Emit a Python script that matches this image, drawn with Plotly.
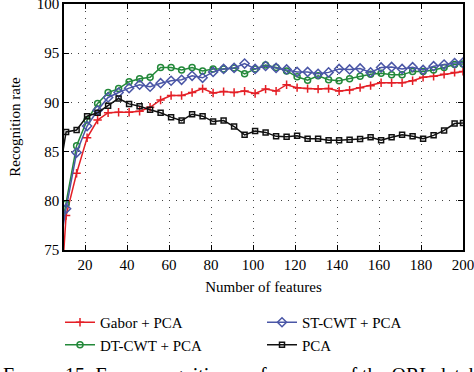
import plotly.graph_objects as go

features = [6, 11, 16, 21, 26, 31, 36, 41, 46, 51, 56, 61, 66, 71, 76, 81, 86, 91, 96, 101,
            106, 111, 116, 121, 126, 131, 136, 141, 146, 151, 156, 161, 166, 171, 176, 181,
            186, 191, 196, 200]

gabor_pca = [62.0, 78.5, 82.8, 86.4, 88.2, 88.95, 89.0, 89.0, 89.1, 89.5, 90.25, 90.7, 90.7,
             91.0, 91.4, 90.95, 91.1, 91.0, 91.15, 90.9, 91.35, 91.15, 91.8, 91.5, 91.4,
             91.35, 91.4, 91.15, 91.25, 91.5, 91.7, 92.0, 92.0, 92.0, 92.2, 92.55, 92.65,
             92.85, 93.05, 93.15]

dtcwt_pca = [74.0, 79.7, 85.6, 88.2, 89.9, 91.0, 91.4, 92.1, 92.4, 92.55, 93.55, 93.55, 93.3,
             93.55, 93.2, 93.4, 93.4, 93.5, 92.9, 93.4, 93.8, 93.55, 93.2, 92.6, 92.25, 92.7,
             92.3, 92.2, 92.4, 92.65, 92.85, 92.95, 92.8, 92.8, 93.15, 93.15, 93.3, 93.55,
             93.85, 93.9]

stcwt_pca = [73.0, 79.2, 84.9, 87.6, 89.2, 90.5, 91.0, 91.45, 91.8, 91.6, 91.95, 92.2, 92.3,
             92.7, 92.5, 93.1, 93.4, 93.5, 93.95, 93.4, 93.7, 93.5, 93.35, 93.1, 93.1, 92.9,
             93.05, 93.4, 93.35, 93.45, 93.05, 93.55, 93.6, 93.4, 93.58, 93.3, 93.68, 93.85,
             94.0, 94.05]

pca = [80.5, 87.0, 87.2, 88.6, 88.95, 89.65, 90.4, 89.85, 89.6, 89.25, 88.95, 88.5, 88.15,
       88.8, 88.6, 88.05, 88.15, 87.55, 86.7, 87.1, 86.95, 86.55, 86.5, 86.6, 86.3, 86.3,
       86.15, 86.15, 86.2, 86.27, 86.45, 86.15, 86.45, 86.7, 86.55, 86.3, 86.65, 87.15,
       87.85, 87.9]

x_ticks = [20, 40, 60, 80, 100, 120, 140, 160, 180, 200]
y_ticks = [75, 80, 85, 90, 95, 100]

FONT = "Times New Roman, Liberation Serif, DejaVu Serif, serif"

fig = go.Figure()

series = [
    ("Gabor + PCA", gabor_pca, "#e41f26", "cross-thin-open", 6, "legend"),
    ("DT-CWT + PCA", dtcwt_pca, "#23893a", "circle-open", 6, "legend"),
    ("ST-CWT + PCA", stcwt_pca, "#4a56a6", "diamond-open", 7, "legend2"),
    ("PCA", pca, "#111111", "square-open", 5, "legend2"),
]
for name, vals, color, sym, size, leg in series:
    fig.add_trace(go.Scatter(
        x=features, y=vals, name=name, mode="lines+markers",
        line=dict(color=color, width=1.5),
        marker=dict(symbol=sym, size=size, color=color, line=dict(color=color, width=1.5)),
        legend=leg,
    ))

axis_common = dict(
    showline=True, linecolor="black", linewidth=1.5, mirror="ticks",
    ticks="inside", ticklen=5, tickcolor="black", tickwidth=1,
    showgrid=True, gridcolor="#444444", gridwidth=1, griddash="1px,6px",
    zeroline=False, tickfont=dict(family=FONT, size=15, color="black"),
    ticklabeloverflow="allow",
)

fig.update_xaxes(range=[10, 200], tickvals=x_ticks,
                 title=dict(text="Number of features", font=dict(family=FONT, size=15, color="black"),
                            standoff=10),
                 **axis_common)
fig.update_yaxes(range=[75, 100], tickvals=y_ticks,
                 title=dict(text="Recognition rate", font=dict(family=FONT, size=15, color="black"),
                            standoff=13),
                 **axis_common)

fig.add_annotation(
    text="F<span style='font-size:15px'>IGURE</span> 15: Face recognition performance of the ORL database",
    xref="paper", yref="paper", x=(1 - 64) / 399, y=(250 - 362) / 246,
    xanchor="left", yanchor="top", showarrow=False,
    font=dict(family=FONT, size=20, color="black"),
)

leg_common = dict(
    orientation="v", xanchor="left", yanchor="top",
    font=dict(family=FONT, size=15, color="black"),
    bgcolor="rgba(0,0,0,0)", tracegroupgap=0,
)

fig.update_layout(
    width=474, height=372,
    margin=dict(l=64, r=11, t=4, b=122, autoexpand=False),
    paper_bgcolor="white", plot_bgcolor="white",
    showlegend=True,
    legend=dict(x=(60 - 64) / 399, y=(250 - 306) / 246, **leg_common),
    legend2=dict(x=(262 - 64) / 399, y=(250 - 306) / 246, **leg_common),
)

fig.write_html("out.html", config={"displayModeBar": False},
               post_script="document.body.style.margin='0px';")
